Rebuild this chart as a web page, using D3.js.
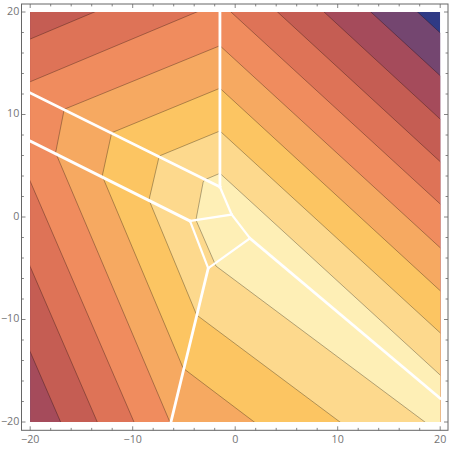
<!DOCTYPE html>
<html><head><meta charset="utf-8">
<script src="https://cdn.jsdelivr.net/npm/d3@7"></script>
<style>html,body{margin:0;padding:0;background:#fff}svg{display:block}</style>
</head><body><svg id="c" width="450" height="450"></svg>
<script>
// Contour levels, lightest to darkest: each ring runs past the plot edge and is clipped.
const bandColors = ["#FEEFB6","#FDD98D","#FCC562","#F6A961","#F08C5E","#DE7357","#C55D53","#A54B5B","#744670","#2F3A85"];
const ringA = [[-3.12,3.44],[-2.85,3.68],[-1.49,4.26],[23,-18.17],[25,-25],[22.53,-23],[-1.88,-4.78],[-3.83,-0.29]];
const ringB = [[-7.41,5.95],[-1.49,8.39],[23,-14.05],[25,-25],[14.24,-23],[-3.76,-9.56],[-8.41,1.66]];
const ringC = [[-12.05,8.22],[-1.49,12.56],[23,-9.95],[25,-25],[5.83,-23],[1.86,-20],[-5.07,-14.76],[-12.97,4.0]];
const ringD = [[-16.68,10.51],[-1.49,16.71],[23,-5.75],[25,-25],[-5.1,-23],[-17.52,6.27]];
const ringE = [[-23,11.94],[-1.46,20.96],[23,-1.48],[25,-25],[-8.58,-23],[-23,10.44]];
const ringF = [[-23,16.1],[-6.6,23],[0.87,23],[23,2.64],[25,-25],[-12.16,-23],[-23,2.1]];
const ringG = [[-25,25],[5.42,23],[23,6.78],[25,-25],[-15.73,-23],[-23,-6.24]];
const ringH = [[-25,25],[9.97,23],[23,11.03],[25,-25],[-25,-25]];
const ringI = [[-25,25],[14.53,23],[23,15.2],[25,-25],[-25,-25]];
const rings = [ringI,ringH,ringG,ringF,ringE,ringD,ringC,ringB,ringA];

// Region boundaries (white mesh)
const vTop = [-1.49,20], v1 = [-1.49,2.93], v2 = [-0.35,0.24], v3 = [1.44,-2.08], v4 = [-4.41,-0.39], v5 = [-2.63,-5.0];
const outerEdges = [[[-20,12.1],v1],[[-20,7.41],v4],[vTop,v1],[v3,[20,-17.69]],[v5,[-6.27,-20]]];
const innerEdges = [[v1,v2],[v2,v3],[v2,v4],[v4,v5],[v3,v5]];

const majorTicks = [-20,-10,0,10,20];
const minorTicks = [-18,-16,-14,-12,-8,-6,-4,-2,2,4,6,8,12,14,16,18];
const domainX = [-20,20], domainY = [-20,20];

const svg = d3.select("#c");
const x = d3.scaleLinear().domain(domainX).range([30.2,440.2]);
const y = d3.scaleLinear().domain(domainY).range([422,12]);
const line = d3.line().x(d=>x(d[0])).y(d=>y(d[1]));

svg.append("clipPath").attr("id","plot").append("rect")
  .attr("x",x(-20)).attr("y",y(20)).attr("width",x(20)-x(-20)).attr("height",y(-20)-y(20));

const g = svg.append("g").attr("clip-path","url(#plot)");
g.append("rect").attr("x",x(-20)).attr("y",y(20)).attr("width",x(20)-x(-20)).attr("height",y(-20)-y(20))
  .attr("fill",bandColors[9]);
rings.forEach((r,i)=>{
  g.append("path").attr("d",line(r)+"Z").attr("fill",bandColors[8-i])
   .attr("stroke","#000").attr("stroke-opacity",0.38).attr("stroke-width",0.8);
});

const mesh = svg.append("g").attr("fill","none").attr("stroke","#fff").attr("stroke-linecap","square");
outerEdges.forEach(e=>mesh.append("path").attr("d",line(e)).attr("stroke-width",2.8));
innerEdges.forEach(e=>mesh.append("path").attr("d",line(e)).attr("stroke-width",2.2));

// Frame and ticks
const L=21.5,R=448,T=4,B=430.3,col="#666666",txt="#747474";
svg.append("rect").attr("x",L).attr("y",T).attr("width",R-L).attr("height",B-T)
  .attr("fill","none").attr("stroke",col).attr("stroke-width",1);
const ticks = svg.append("g").attr("stroke",col).attr("stroke-width",0.8);
[[majorTicks,4],[minorTicks,2.4]].forEach(([vals,len])=>vals.forEach(v=>{
  ticks.append("line").attr("x1",x(v)).attr("x2",x(v)).attr("y1",B).attr("y2",B-len);
  ticks.append("line").attr("x1",x(v)).attr("x2",x(v)).attr("y1",T).attr("y2",T+len);
  ticks.append("line").attr("y1",y(v)).attr("y2",y(v)).attr("x1",L).attr("x2",L+len);
  ticks.append("line").attr("y1",y(v)).attr("y2",y(v)).attr("x1",R).attr("x2",R-len);
}));
const fmt = v => v<0 ? "\u2212"+(-v) : ""+v;
const labels = svg.append("g").attr("fill",txt).attr("font-family","'Open Sans',sans-serif").attr("font-size",10.7);
majorTicks.forEach(v=>{
  labels.append("text").attr("x",x(v)).attr("y",B+12.5).attr("text-anchor","middle").text(fmt(v));
  labels.append("text").attr("x",L-2.2).attr("y",y(v)+2.6).attr("text-anchor","end").text(fmt(v));
});
</script></body></html>
